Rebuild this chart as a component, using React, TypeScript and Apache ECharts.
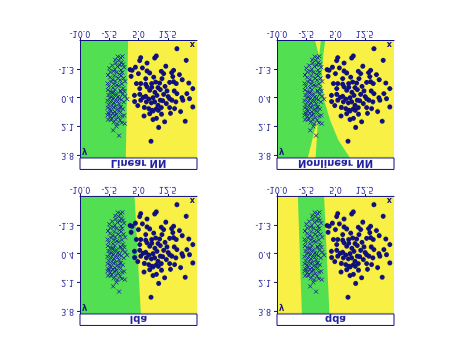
import React, { useEffect, useRef } from "react";
import * as echarts from "echarts";

// ---------- data ----------
const PANEL_TITLES = ["lda", "qda", "Linear NN", "Nonlinear NN"];
const X_TICKS = [-10, -2.5, 5, 12.5];
const Y_TICKS = [-1.3, 0.4, 2.1, 3.8];
const X_MIN = -10;
const X_MAX = 20;
const Y_MIN = -3.0;
const Y_MAX = 3.95;

// class 1 (crosses)
const CROSSES: number[][] = [
  [-0.31, -2.07], [0.42, -2.01], [0.88, -2.09], [-0.12, -1.83], [0.67, -1.74], [-0.86, -1.69], [0.21, -1.57], [1.02, -1.61],
  [-2.47, -1.38], [-1.74, -1.55], [-1.08, -1.31], [-0.39, -1.49], [0.51, -1.27], [1.31, -1.44], [-2.21, -1.16], [-1.41, -1.21],
  [-0.66, -1.14], [0.11, -1.02], [0.84, -1.13], [-2.81, -0.98], [-1.17, -0.93], [-0.21, -0.79], [0.58, -0.94],
  [-2.29, -0.83], [-1.61, -0.71], [-0.93, -0.62], [0.27, -0.67], [1.18, -0.78], [-2.91, -0.48], [-1.96, -0.57], [-1.33, -0.43],
  [-0.52, -0.38], [0.71, -0.45], [-2.63, -0.31], [-1.56, -0.22], [-0.09, -0.33], [1.04, -0.19], [-1.01, -0.11], [0.36, -0.06],
  [-2.86, -0.09], [-2.18, 0.02], [-1.46, 0.07], [-0.63, 0.14], [0.47, 0.01], [1.38, -0.02], [-2.69, 0.21], [-1.87, 0.29],
  [-1.12, 0.24], [-0.27, 0.33], [0.86, 0.18], [-2.41, 0.38], [-1.53, 0.44], [-0.71, 0.52], [0.14, 0.41], [1.62, 0.27],
  [-2.94, 0.55], [-2.11, 0.61], [-1.26, 0.68], [-0.38, 0.59], [0.62, 0.49], [1.21, 0.63], [-2.66, 0.79], [-1.79, 0.83],
  [-0.87, 0.88], [0.08, 0.74], [2.08, 0.46], [-2.89, 0.97], [-2.26, 1.04], [-1.37, 0.95], [-0.48, 1.08], [0.49, 0.92],
  [-2.02, 1.17], [-1.04, 1.21], [-0.02, 1.13], [0.97, 1.03], [-2.77, 1.26], [-2.43, 1.33], [-1.58, 1.29], [-0.61, 1.36],
  [0.37, 1.24], [-2.92, 1.41], [-2.17, 1.49], [-1.21, 1.44], [-0.16, 1.55], [0.79, 1.47], [-1.83, 1.61], [-0.82, 1.66],
  [0.29, 1.71], [1.32, 1.42], [-2.78, 1.67], [-2.08, 1.68], [-1.34, 1.83], [-0.43, 1.93], [0.71, 1.86], [1.49, 1.91],
  [-0.69, 2.07], [-1.49, 2.31], [0.02, 2.62], [-0.95, -1.88], [1.55, -0.6], [-1.8, 0.05], [0.2, 0.95],
];

// class 2 (dots)
const DOTS: number[][] = [
  [14.85, -2.54], [9.57, -2.11], [9.15, -1.99], [5.57, -2.01], [17.23, -1.85], [7.19, -1.69], [5.3, -1.83],
  [4.21, -1.44], [2.85, -1.3], [3.36, -1.26], [7.19, -1.22], [7.87, -1.1], [4.98, -1.06], [10.85, -1.2],
  [11.45, -1.06], [14.0, -1.26], [13.49, -1.12], [16.21, -0.7], [11.02, -0.76], [6.85, -0.76], [13.8, -0.88],
  [4.47, -0.47], [5.57, -0.47], [6.85, -0.43], [8.38, -0.47], [9.4, -0.56], [10.42, -0.5], [12.98, -0.54],
  [14.0, -0.58], [14.68, -0.47], [5.32, -0.17], [7.19, -0.27], [7.87, -0.07], [10.0, -0.23], [10.59, -0.11],
  [12.3, -0.03], [14.17, -0.03], [14.85, 0.13], [18.93, -0.17], [17.4, 0.13], [11.8, -0.3], [9.2, 0.05],
  [3.96, 0.23], [5.32, 0.17], [6.85, 0.29], [7.62, 0.45], [8.72, 0.37], [9.74, 0.23], [11.45, 0.17],
  [12.98, 0.43], [13.57, 0.52], [16.13, 0.37], [18.08, 0.43], [16.38, 0.52], [5.57, 0.52], [12.6, 0.3],
  [7.02, 0.62], [8.3, 0.68], [9.15, 0.62], [10.0, 0.82], [10.59, 0.52], [12.13, 0.72], [14.59, 0.62],
  [4.81, 0.84], [7.62, 1.02], [8.47, 1.12], [9.57, 1.04], [10.08, 1.12], [10.85, 0.96], [12.98, 0.96],
  [14.25, 1.02], [18.93, 0.92], [6.42, 1.46], [7.87, 1.32], [8.72, 1.16], [8.72, 1.67], [16.98, 1.77],
  [10.17, 2.14], [8.21, 2.96], [10.9, 1.35], [6.2, 0.35], [3.1, -0.9], [6.0, -1.4], [8.9, -0.85],
  [12.0, -1.5], [15.5, -1.0], [17.9, -0.5], [4.0, 0.6], [11.2, 0.55], [13.2, 1.3], [15.8, 1.2],
  [9.6, 1.6], [11.7, 1.8], [8.4, -0.25], [6.5, 0.95],
];

// decision regions (green = class 1 side), boundary polygons per panel
const LDA_GREEN: number[][][] = [[[-10, -3.0], [4.0, -3.0], [5.6, 3.95], [-10, 3.95]]];
const QDA_GREEN: number[][][] = [[[-4.64, -3.0], [2.08, -3.0], [3.45, 3.95], [-3.62, 3.95]]];
const LINEAR_GREEN: number[][][] = [[[-10, -3.0], [2.34, -3.0], [1.74, 3.95], [-10, 3.95]]];
const NONLINEAR_GREEN: number[][][] = [
  [
    [-10, -3.0], [-0.21, -3.0], [0.81, -2.09], [1.23, -3.0], [2.34, -3.0], [1.91, -2.25], [1.57, -1.26],
    [1.49, -0.47], [2.08, 0.52], [3.62, 1.71], [5.74, 2.9], [8.72, 3.95], [-0.1, 3.95], [0.55, 1.45],
    [-2.1, 3.95], [-10, 3.95],
  ],
];
const REGIONS = [LDA_GREEN, QDA_GREEN, LINEAR_GREEN, NONLINEAR_GREEN];

// ---------- styles ----------
const GREEN = "#52e052";
const YELLOW = "#f8f044";
const NAVY = "#10107e";
const CROSS_COLOR = "#1c2a9a";
const LABEL_COLOR = "#2a2a9c";
const FONT = "DejaVu Sans";

const GRIDS = [
  { left: 80, top: 41, width: 117, height: 117 },
  { left: 277, top: 41, width: 117, height: 117 },
  { left: 80, top: 197, width: 117, height: 117 },
  { left: 277, top: 197, width: 117, height: 117 },
];

export default function App() {
  const ref = useRef<HTMLDivElement>(null);

  useEffect(() => {
    if (!ref.current) return;
    const chart = echarts.init(ref.current, null, { renderer: "svg" });

    const grid = GRIDS.map((g) => ({ ...g, show: true, backgroundColor: YELLOW, borderWidth: 0 }));

    const xAxis = GRIDS.map((_, i) => ({
      type: "value",
      gridIndex: i,
      min: X_MIN,
      max: X_MAX,
      z: 5,
      axisLine: { show: true, onZero: false, lineStyle: { color: NAVY, width: 1 } },
      axisTick: { show: true, length: 3, customValues: X_TICKS, lineStyle: { color: NAVY } },
      axisLabel: {
        customValues: X_TICKS,
        formatter: (v: number) => v.toFixed(1),
        fontSize: 8,
        fontFamily: FONT,
        color: LABEL_COLOR,
        margin: 3,
      },
      splitLine: { show: false },
    }));

    const yAxis = GRIDS.map((_, i) => ({
      type: "value",
      gridIndex: i,
      min: Y_MIN,
      max: Y_MAX,
      z: 5,
      axisLine: { show: true, onZero: false, lineStyle: { color: NAVY, width: 1 } },
      axisTick: { show: true, length: 3, customValues: Y_TICKS, lineStyle: { color: NAVY } },
      axisLabel: {
        customValues: Y_TICKS,
        formatter: (v: number) => v.toFixed(1),
        fontSize: 8,
        fontFamily: FONT,
        color: LABEL_COLOR,
        margin: 6,
      },
      splitLine: { show: false },
    }));

    const series: any[] = [];
    GRIDS.forEach((_, i) => {
      const polys = REGIONS[i];
      series.push({
        type: "custom",
        xAxisIndex: i,
        yAxisIndex: i,
        silent: true,
        z: 1,
        data: polys.map((p) => p[0]),
        renderItem: (params: any, api: any) => {
          const poly = polys[params.dataIndex];
          return {
            type: "polygon",
            shape: { points: poly.map((pt) => api.coord(pt)) },
            style: { fill: GREEN, stroke: null },
          };
        },
      });
      series.push({
        type: "scatter",
        xAxisIndex: i,
        yAxisIndex: i,
        z: 3,
        symbol: "path://M0,0L10,10M0,10L10,0",
        symbolSize: 4,
        itemStyle: { color: "transparent", borderColor: CROSS_COLOR, borderWidth: 1, opacity: 1 },
        data: CROSSES,
      });
      series.push({
        type: "scatter",
        xAxisIndex: i,
        yAxisIndex: i,
        z: 4,
        symbol: "circle",
        symbolSize: 5,
        itemStyle: { color: NAVY, opacity: 1 },
        data: DOTS,
      });
    });

    const graphic: any[] = [];
    GRIDS.forEach((g, i) => {
      graphic.push({
        type: "rect",
        shape: { x: g.left, y: g.top - 11.5, width: g.width, height: 11.5 },
        style: { fill: "#ffffff", stroke: NAVY, lineWidth: 1 },
        z: 10,
      });
      graphic.push({
        type: "text",
        x: g.left + g.width / 2,
        y: g.top - 5.5,
        style: {
          text: PANEL_TITLES[i],
          fill: "#2020a0",
          font: `bold 10px "${FONT}"`,
          align: "center",
          verticalAlign: "middle",
        },
        z: 11,
      });
      graphic.push({
        type: "text",
        x: g.left + 2,
        y: g.top + 5,
        style: { text: "y", fill: NAVY, font: `bold 8px "${FONT}"`, align: "left", verticalAlign: "middle" },
        z: 11,
      });
      graphic.push({
        type: "text",
        x: g.left + g.width - 2,
        y: g.top + g.height - 4,
        style: { text: "x", fill: NAVY, font: `bold 8px "${FONT}"`, align: "right", verticalAlign: "middle" },
        z: 11,
      });
    });

    chart.setOption({
      animation: false,
      backgroundColor: "#ffffff",
      grid,
      xAxis,
      yAxis,
      series,
      graphic,
    });

    return () => chart.dispose();
  }, []);

  return (
    <div
      ref={ref}
      style={{
        position: "fixed",
        left: 0,
        top: 0,
        width: 474,
        height: 355,
        transform: "scaleY(-1)",
        background: "#ffffff",
      }}
    />
  );
}
